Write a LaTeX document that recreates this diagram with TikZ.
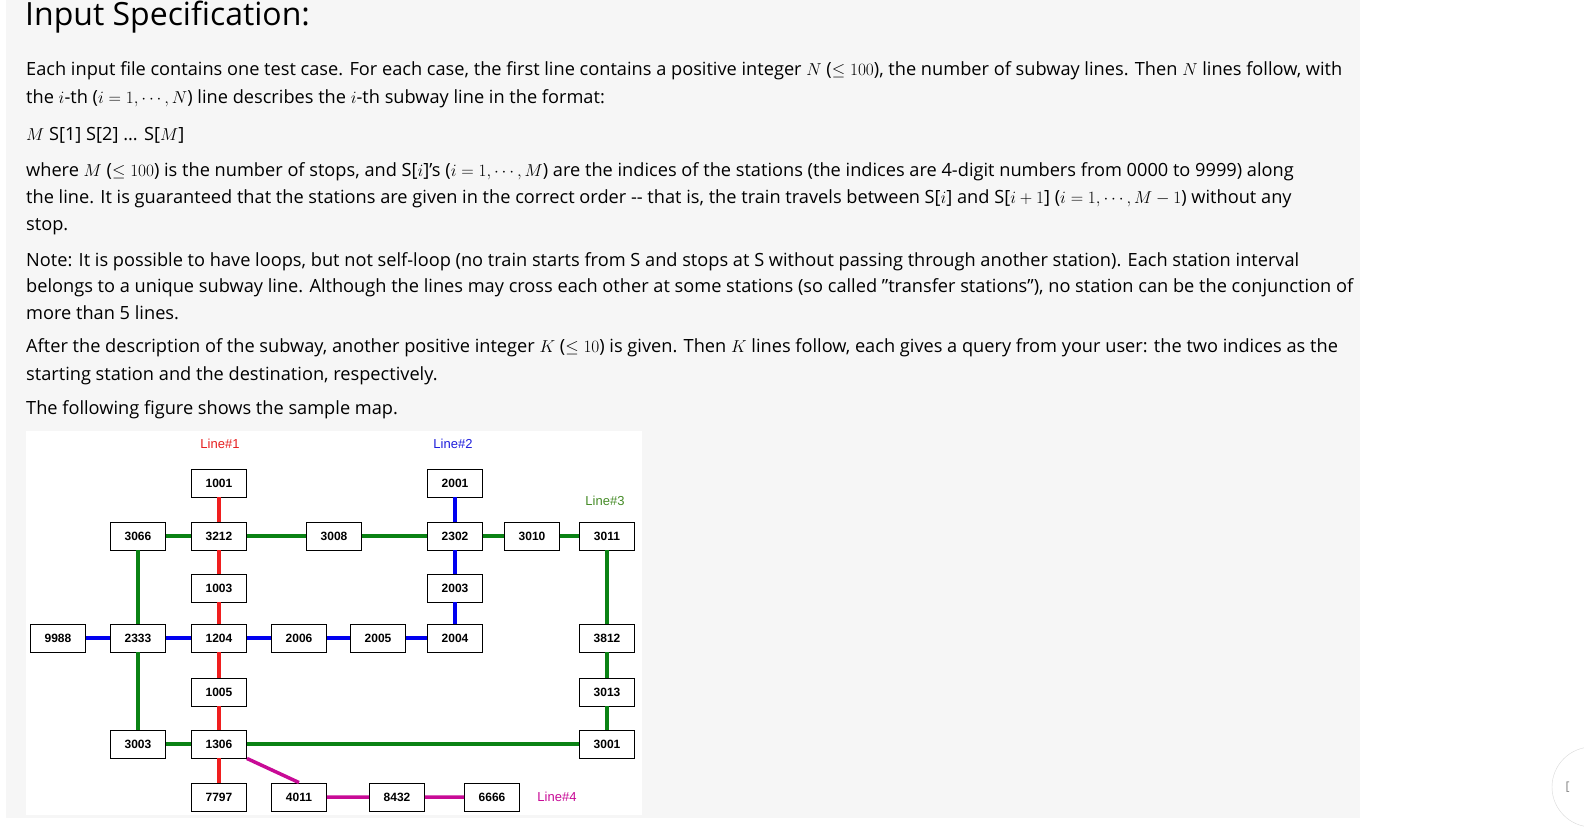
\documentclass[tikz,border=0pt]{standalone}
\usepackage{fontspec}
\setmainfont{Open Sans}
\newfontfamily\diag{Liberation Sans}
\begin{document}
\begin{tikzpicture}[x=1pt,y=-1pt,
 txt/.style={anchor=west,inner sep=0pt,font=\fontsize{18.2}{20}\selectfont},
 st/.style={draw=black,line width=0.9pt,fill=white,minimum width=55pt,minimum height=28pt,inner sep=0pt,font=\diag\bfseries\fontsize{12}{12}\selectfont},
 lab/.style={font=\diag\fontsize{13}{13}\selectfont},
 L1/.style={line width=3.5pt,draw={rgb,255:red,240;green,30;blue,30}},
 L2/.style={line width=3.5pt,draw={rgb,255:red,0;green,0;blue,240}},
 L3/.style={line width=3.5pt,draw={rgb,255:red,10;green,130;blue,20}},
 L4/.style={line width=3.5pt,draw={rgb,255:red,200;green,10;blue,150}}]
\useasboundingbox (0,0) rectangle (1584,828);
\fill[white] (0,0) rectangle (1584,828);
\fill[gray!7] (6,0) rectangle (1360,818);
\begin{scope}
\clip (0,0) rectangle (1584,828);
\fill[white] (1592,787) circle (40);
\draw[gray!30] (1592,787) circle (40);
\end{scope}
\node[anchor=west,font=\fontsize{12}{12}\selectfont,text=gray] at (1562,787) {[};
\node[txt,font=\fontsize{32}{34}\selectfont] (t0) at (25,17) {Input Specification:};
\node[txt] (t1) at (26,71) {Each input file contains one test case. For each case, the first line contains a positive integer $N$ ($\le 100$), the number of subway lines. Then $N$ lines follow, with};
\node[txt] (t2) at (26,99) {the $i$-th ($i=1,\cdots,N$) line describes the $i$-th subway line in the format:};
\node[txt] (t3) at (26,135) {$M$ S[1] S[2] ... S[$M$]};
\node[txt] (t4) at (26,172) {where $M$ ($\le 100$) is the number of stops, and S[$i$]'s ($i=1,\cdots,M$) are the indices of the stations (the indices are 4-digit numbers from 0000 to 9999) along};
\node[txt] (t5) at (26,199) {the line. It is guaranteed that the stations are given in the correct order {-}{-} that is, the train travels between S[$i$] and S[$i+1$] ($i=1,\cdots,M-1$) without any};
\node[txt] (t6) at (26,227) {stop.};
\node[txt] (t7) at (26,262) {Note: It is possible to have loops, but not self-loop (no train starts from S and stops at S without passing through another station). Each station interval};
\node[txt] (t8) at (26,288) {belongs to a unique subway line. Although the lines may cross each other at some stations (so called \symbol{34}transfer stations\symbol{34}), no station can be the conjunction of};
\node[txt] (t9) at (26,313) {more than 5 lines.};
\node[txt] (t10) at (26,348) {After the description of the subway, another positive integer $K$ ($\le 10$) is given. Then $K$ lines follow, each gives a query from your user: the two indices as the};
\node[txt] (t11) at (26,376) {starting station and the destination, respectively.};
\node[txt] (t12) at (26,410) {The following figure shows the sample map.};
\fill[white] (26,431) rectangle (642,815);
% stations
\node[st] (s1001) at (219,483) {1001};
\node[st] (s3212) at (219,536) {3212};
\node[st] (s1003) at (219,588) {1003};
\node[st] (s1204) at (219,638) {1204};
\node[st] (s1005) at (219,692) {1005};
\node[st] (s1306) at (219,744) {1306};
\node[st] (s7797) at (219,797) {7797};
\node[st] (s2001) at (455,483) {2001};
\node[st] (s2302) at (455,536) {2302};
\node[st] (s2003) at (455,588) {2003};
\node[st] (s2004) at (455,638) {2004};
\node[st] (s9988) at (58,638) {9988};
\node[st] (s2333) at (138,638) {2333};
\node[st] (s3066) at (138,536) {3066};
\node[st] (s3003) at (138,744) {3003};
\node[st] (s2006) at (299,638) {2006};
\node[st] (s2005) at (378,638) {2005};
\node[st] (s3008) at (334,536) {3008};
\node[st] (s3010) at (532,536) {3010};
\node[st] (s3011) at (607,536) {3011};
\node[st] (s3812) at (607,638) {3812};
\node[st] (s3013) at (607,692) {3013};
\node[st] (s3001) at (607,744) {3001};
\node[st] (s4011) at (299,797) {4011};
\node[st] (s8432) at (397,797) {8432};
\node[st] (s6666) at (492,797) {6666};
\draw[L1] (s1001) -- (s3212) (s3212) -- (s1003) (s1003) -- (s1204) (s1204) -- (s1005) (s1005) -- (s1306) (s1306) -- (s7797);
\draw[L2] (s2001) -- (s2302) (s2302) -- (s2003) (s2003) -- (s2004) (s9988) -- (s2333) (s2333) -- (s1204) (s1204) -- (s2006) (s2006) -- (s2005) (s2005) -- (s2004);
\draw[L3] (s3066) -- (s3212) (s3212) -- (s3008) (s3008) -- (s2302) (s2302) -- (s3010) (s3010) -- (s3011) (s3011) -- (s3812) (s3812) -- (s3013) (s3013) -- (s3001) (s3001) -- (s1306) (s1306) -- (s3003) (s3003) -- (s2333) (s2333) -- (s3066);
\draw[L4] (s1306.south east) -- (s4011.north) (s4011) -- (s8432) (s8432) -- (s6666);
\node[lab,text={rgb,255:red,230;green,30;blue,30}] (l1) at (220,444) {Line\#1};
\node[lab,text={rgb,255:red,30;green,30;blue,220}] (l2) at (453,444) {Line\#2};
\node[lab,text={rgb,255:red,70;green,140;blue,40}] (l3) at (605,501) {Line\#3};
\node[lab,text={rgb,255:red,200;green,10;blue,150}] (l4) at (557,797) {Line\#4};
\end{tikzpicture}
\end{document}
